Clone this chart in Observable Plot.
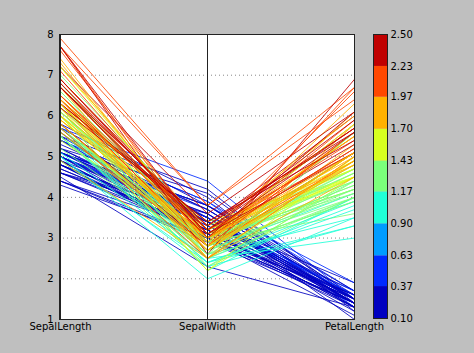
<!DOCTYPE html>
<html><head><meta charset="utf-8">
<script src="https://cdn.jsdelivr.net/npm/d3@7"></script>
<script src="https://cdn.jsdelivr.net/npm/@observablehq/plot@0.6"></script>
<style>
html,body{margin:0;padding:0;background:#bfbfbf;}
#chart{position:relative;width:474px;height:353px;background:#bfbfbf;overflow:hidden;}
#chart svg{position:absolute;top:0;}
</style></head>
<body><div id="chart"></div>
<script>
const dims = ["SepalLength", "SepalWidth", "PetalLength"];
const yTicks = [1, 2, 3, 4, 5, 6, 7, 8];
const colorTicks = [0.10, 0.37, 0.63, 0.90, 1.17, 1.43, 1.70, 1.97, 2.23, 2.50];
const jetColors = ["#0000c0", "#002aff", "#009cff", "#20ffd7", "#7bff7b", "#d7ff20", "#ffb100", "#ff4800", "#c00000"];

const sepalLength = [
5.1,4.9,4.7,4.6,5.0,5.4,4.6,5.0,4.4,4.9,5.4,4.8,4.8,4.3,5.8,5.7,5.4,5.1,5.7,5.1,5.4,5.1,4.6,5.1,4.8,5.0,5.0,5.2,5.2,4.7,4.8,5.4,5.2,5.5,4.9,5.0,5.5,4.9,4.4,5.1,5.0,4.5,4.4,5.0,5.1,4.8,5.1,4.6,5.3,5.0,
7.0,6.4,6.9,5.5,6.5,5.7,6.3,4.9,6.6,5.2,5.0,5.9,6.0,6.1,5.6,6.7,5.6,5.8,6.2,5.6,5.9,6.1,6.3,6.1,6.4,6.6,6.8,6.7,6.0,5.7,5.5,5.5,5.8,6.0,5.4,6.0,6.7,6.3,5.6,5.5,5.5,6.1,5.8,5.0,5.6,5.7,5.7,6.2,5.1,5.7,
6.3,5.8,7.1,6.3,6.5,7.6,4.9,7.3,6.7,7.2,6.5,6.4,6.8,5.7,5.8,6.4,6.5,7.7,7.7,6.0,6.9,5.6,7.7,6.3,6.7,7.2,6.2,6.1,6.4,7.2,7.4,7.9,6.4,6.3,6.1,7.7,6.3,6.4,6.0,6.9,6.7,6.9,5.8,6.8,6.7,6.7,6.3,6.5,6.2,5.9];
const sepalWidth = [
3.5,3.0,3.2,3.1,3.6,3.9,3.4,3.4,2.9,3.1,3.7,3.4,3.0,3.0,4.0,4.4,3.9,3.5,3.8,3.8,3.4,3.7,3.6,3.3,3.4,3.0,3.4,3.5,3.4,3.2,3.1,3.4,4.1,4.2,3.1,3.2,3.5,3.6,3.0,3.4,3.5,2.3,3.2,3.5,3.8,3.0,3.8,3.2,3.7,3.3,
3.2,3.2,3.1,2.3,2.8,2.8,3.3,2.4,2.9,2.7,2.0,3.0,2.2,2.9,2.9,3.1,3.0,2.7,2.2,2.5,3.2,2.8,2.5,2.8,2.9,3.0,2.8,3.0,2.9,2.6,2.4,2.4,2.7,2.7,3.0,3.4,3.1,2.3,3.0,2.5,2.6,3.0,2.6,2.3,2.7,3.0,2.9,2.9,2.5,2.8,
3.3,2.7,3.0,2.9,3.0,3.0,2.5,2.9,2.5,3.6,3.2,2.7,3.0,2.5,2.8,3.2,3.0,3.8,2.6,2.2,3.2,2.8,2.8,2.7,3.3,3.2,2.8,3.0,2.8,3.0,2.8,3.8,2.8,2.8,2.6,3.0,3.4,3.1,3.0,3.1,3.1,3.1,2.7,3.2,3.3,3.0,2.5,3.0,3.4,3.0];
const petalLength = [
1.4,1.4,1.3,1.5,1.4,1.7,1.4,1.5,1.4,1.5,1.5,1.6,1.4,1.1,1.2,1.5,1.3,1.4,1.7,1.5,1.7,1.5,1.0,1.7,1.9,1.6,1.6,1.5,1.4,1.6,1.6,1.5,1.5,1.4,1.5,1.2,1.3,1.4,1.3,1.5,1.3,1.3,1.3,1.6,1.9,1.4,1.6,1.4,1.5,1.4,
4.7,4.5,4.9,4.0,4.6,4.5,4.7,3.3,4.6,3.9,3.5,4.2,4.0,4.7,3.6,4.4,4.5,4.1,4.5,3.9,4.8,4.0,4.9,4.7,4.3,4.4,4.8,5.0,4.5,3.5,3.8,3.7,3.9,5.1,4.5,4.5,4.7,4.4,4.1,4.0,4.4,4.6,4.0,3.3,4.2,4.2,4.2,4.3,3.0,4.1,
6.0,5.1,5.9,5.6,5.8,6.6,4.5,6.3,5.8,6.1,5.1,5.3,5.5,5.0,5.1,5.3,5.5,6.7,6.9,5.0,5.7,4.9,6.7,4.9,5.7,6.0,4.8,4.9,5.6,5.8,6.1,6.4,5.6,5.1,5.6,6.1,5.6,5.5,4.8,5.4,5.6,5.1,5.1,5.9,5.7,5.2,5.0,5.2,5.4,5.1];
const petalWidth = [
0.2,0.2,0.2,0.2,0.2,0.4,0.3,0.2,0.2,0.1,0.2,0.2,0.1,0.1,0.2,0.4,0.4,0.3,0.3,0.3,0.2,0.4,0.2,0.5,0.2,0.2,0.4,0.2,0.2,0.2,0.2,0.4,0.1,0.2,0.1,0.2,0.2,0.1,0.2,0.2,0.3,0.3,0.2,0.6,0.4,0.3,0.2,0.2,0.2,0.2,
1.4,1.5,1.5,1.3,1.5,1.3,1.6,1.0,1.3,1.4,1.0,1.5,1.0,1.4,1.3,1.4,1.5,1.0,1.5,1.1,1.8,1.3,1.5,1.2,1.3,1.4,1.4,1.7,1.5,1.0,1.1,1.0,1.2,1.6,1.5,1.6,1.5,1.3,1.3,1.3,1.2,1.4,1.2,1.0,1.3,1.2,1.3,1.3,1.1,1.3,
2.5,1.9,2.1,1.8,2.2,2.1,1.7,1.8,1.8,2.5,2.0,1.9,2.1,2.0,2.4,2.3,1.8,2.2,2.3,1.5,2.3,2.0,2.0,1.8,2.1,1.8,1.8,1.8,2.1,1.6,1.9,2.0,2.2,1.5,1.4,2.3,2.4,1.8,1.8,2.1,2.4,2.3,1.9,2.3,2.5,2.3,1.9,2.0,2.3,1.8];

const cols = [sepalLength, sepalWidth, petalLength];
const rows = [];
for (let i = 0; i < petalWidth.length; i++) {
  dims.forEach((d, k) => rows.push({id: i, dim: d, value: cols[k][i], pw: petalWidth[i]}));
}

const colorScale = {type: "threshold", domain: colorTicks.slice(1, -1), range: jetColors};
const font = {background: "transparent", fontFamily: "DejaVu Sans", fontSize: "10px", color: "black", overflow: "visible"};

const main = Plot.plot({
  width: 370, height: 353,
  marginLeft: 59, marginRight: 16, marginTop: 34, marginBottom: 34,
  style: font,
  x: {type: "point", domain: dims, padding: 0, axis: null},
  y: {domain: [1, 8], axis: null},
  color: colorScale,
  marks: [
    Plot.frame({fill: "white", stroke: "none"}),
    Plot.gridY(yTicks.slice(1, -1), {stroke: "#888", strokeOpacity: 1, strokeDasharray: "1,3"}),
    Plot.line(rows, {x: "dim", y: "value", z: "id", stroke: "pw", strokeWidth: 1, strokeOpacity: 0.85}),
    Plot.ruleX(dims, {stroke: "#222", strokeWidth: 1}),
    Plot.frame({stroke: "#222", strokeWidth: 1}),
    Plot.axisY(yTicks, {tickSize: 0, tickPadding: 6, fontSize: 10, fill: "black", label: null}),
    Plot.axisX(dims, {tickSize: 0, tickPadding: 3, fontSize: 10, fill: "black", label: null})
  ]
});
main.style.left = "0px";
document.getElementById("chart").appendChild(main);

const bins = jetColors.map((c, i) => ({lo: colorTicks[i], hi: colorTicks[i + 1], mid: (colorTicks[i] + colorTicks[i + 1]) / 2}));
const bar = Plot.plot({
  width: 114, height: 353,
  marginLeft: 13, marginRight: 87, marginTop: 34, marginBottom: 35,
  style: font,
  x: {domain: [0, 1], axis: null},
  y: {domain: [colorTicks[0], colorTicks[colorTicks.length - 1]], axis: null},
  color: colorScale,
  marks: [
    Plot.rect(bins, {x1: 0, x2: 1, y1: "lo", y2: "hi", fill: "mid"}),
    Plot.frame({stroke: "#222", strokeWidth: 1}),
    Plot.axisY(colorTicks, {anchor: "right", tickSize: 0, tickPadding: 3, tickFormat: d => d.toFixed(2), fontSize: 10, fill: "black", label: null})
  ]
});
bar.style.left = "360px";
document.getElementById("chart").appendChild(bar);
</script>
</body></html>
